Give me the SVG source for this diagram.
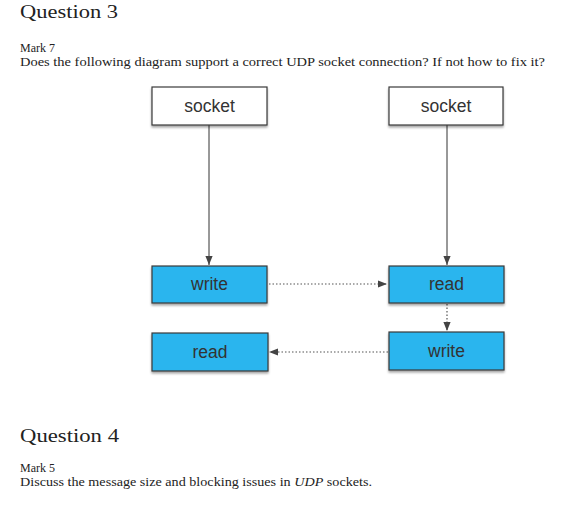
<svg xmlns="http://www.w3.org/2000/svg" width="564" height="513" viewBox="0 0 564 513">
<defs>
<style>
.serif{font-family:"Liberation Serif","DejaVu Serif",serif;fill:#222}
.h{font-size:18.5px}
.p{font-size:13px}
.box{stroke:#3a3a3a;stroke-width:1.2}
.white{fill:#fff}
.blue{fill:#2bb5ee}
.lbl{font-family:"Liberation Sans",Arial,sans-serif;font-size:17.5px;fill:#333;text-anchor:middle}
.solid{stroke:#333;stroke-width:1;fill:none}
.dot{stroke:#555;stroke-width:1.2;stroke-dasharray:1.5 2;fill:none}
</style>
<marker id="ah" viewBox="0 0 10 10" refX="10" refY="5" markerWidth="9" markerHeight="9" markerUnits="userSpaceOnUse" orient="auto">
<path d="M0,1 L10,5 L0,9 z" fill="#444"/>
</marker>
<filter id="sh" x="-10%" y="-10%" width="130%" height="140%">
<feDropShadow dx="0" dy="2" stdDeviation="1" flood-color="#000" flood-opacity="0.35"/>
</filter>
</defs>
<rect width="564" height="513" fill="#fff"/>
<text class="serif h" x="20" y="18" textLength="98" lengthAdjust="spacingAndGlyphs">Question 3</text>
<text class="serif p" x="20" y="52" textLength="35" lengthAdjust="spacingAndGlyphs">Mark 7</text>
<text class="serif p" x="20" y="66" textLength="525" lengthAdjust="spacingAndGlyphs">Does the following diagram support a correct UDP socket connection? If not how to fix it?</text>
<g id="connectors">
<line class="solid" x1="209" y1="125" x2="209" y2="265" marker-end="url(#ah)"/>
<line class="solid" x1="447" y1="125" x2="447" y2="265" marker-end="url(#ah)"/>
<line class="dot" x1="269" y1="284" x2="387" y2="284" marker-end="url(#ah)"/>
<line class="dot" x1="447" y1="304" x2="447" y2="331" marker-end="url(#ah)"/>
<line class="dot" x1="388" y1="352" x2="269" y2="352" marker-end="url(#ah)"/>
</g>
<g id="socket-left"><rect class="box white" x="152" y="87" width="115" height="38" filter="url(#sh)"/><text class="lbl" x="209.5" y="112">socket</text></g>
<g id="socket-right"><rect class="box white" x="389" y="87" width="114" height="38" filter="url(#sh)"/><text class="lbl" x="446" y="112">socket</text></g>
<g id="write-left"><rect class="box blue" x="152" y="266" width="115" height="37" filter="url(#sh)"/><text class="lbl" x="209.5" y="290">write</text></g>
<g id="read-right"><rect class="box blue" x="389" y="266" width="115" height="37" filter="url(#sh)"/><text class="lbl" x="446.5" y="290">read</text></g>
<g id="read-left"><rect class="box blue" x="152" y="333" width="116" height="38" filter="url(#sh)"/><text class="lbl" x="210" y="358">read</text></g>
<g id="write-right"><rect class="box blue" x="389" y="332" width="115" height="38" filter="url(#sh)"/><text class="lbl" x="446.5" y="357">write</text></g>
<text class="serif h" x="20" y="442" textLength="99" lengthAdjust="spacingAndGlyphs">Question 4</text>
<text class="serif p" x="20" y="472" textLength="35" lengthAdjust="spacingAndGlyphs">Mark 5</text>
<text class="serif p" x="20" y="486" textLength="352" lengthAdjust="spacingAndGlyphs">Discuss the message size and blocking issues in <tspan font-style="italic">UDP</tspan> sockets.</text>
</svg>
